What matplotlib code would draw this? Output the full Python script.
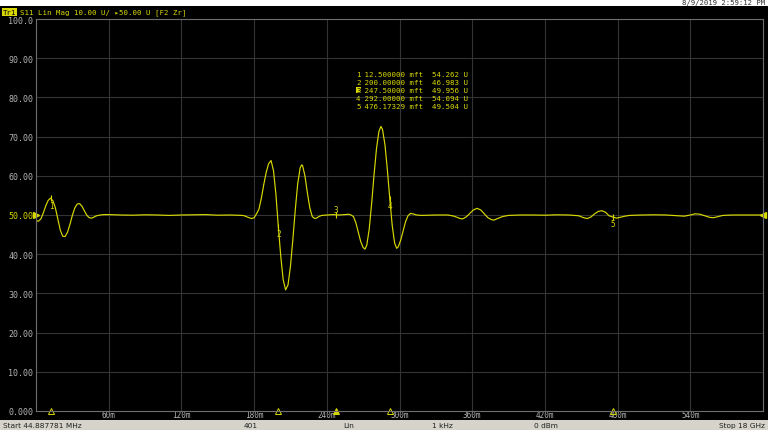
import matplotlib
matplotlib.use("Agg")
import matplotlib.pyplot as plt
from matplotlib.patches import Rectangle

# trace (distance in mft, S11 lin mag in U)
dist = [0, 2, 4, 6, 8, 10, 12, 14, 16, 18, 20, 22, 24, 26, 28, 30, 32, 34, 36, 38,
        40, 42, 44, 46, 48, 50, 53, 56, 60, 70, 80, 90, 100, 110, 120, 130, 140, 150,
        160, 170, 172, 175, 178, 180, 182, 184, 186, 188, 190, 192, 194, 196, 198, 200,
        202, 204, 206, 208, 210, 212, 214, 216, 218, 219.3, 220, 222, 224, 226, 228,
        230, 232, 234, 236, 240, 245, 250, 255, 258, 260, 262, 264, 266, 268, 270,
        271.5, 273, 275, 277, 279, 281, 283, 284.7, 286, 288, 290, 292, 294, 296,
        297.7, 299, 301, 303, 305, 307, 309, 311, 314, 318, 330, 340, 345, 350, 352,
        355, 358, 361, 364, 367, 370, 373, 376, 378, 381, 385, 390, 400, 410, 420,
        430, 440, 448, 452, 455, 458, 461, 464, 467, 470, 473, 476, 479, 482, 486,
        490, 500, 510, 520, 530, 535, 540, 544, 548, 552, 556, 559, 563, 567, 575,
        585, 600]
mag = [48.6, 48.4, 49.0, 50.5, 52.3, 53.7, 54.3, 53.6, 51.8, 49.0, 46.2, 44.6, 44.5,
       45.6, 47.6, 49.9, 51.8, 52.8, 52.9, 52.2, 51.0, 49.9, 49.3, 49.2, 49.5, 49.8,
       50.0, 50.1, 50.1, 50.0, 49.95, 50.05, 50.0, 49.9, 50.0, 50.05, 50.1, 49.95,
       50.0, 49.9, 49.8, 49.4, 49.1, 49.3, 50.3, 51.5, 54.3, 57.8, 60.9, 63.1, 63.9,
       61.3, 55.3, 47.0, 39.5, 33.5, 30.9, 32.2, 36.9, 43.8, 51.4, 58.0, 62.0, 62.8,
       62.6, 59.9, 55.6, 51.8, 49.6, 49.1, 49.3, 49.7, 49.9, 50.0, 50.1, 50.0, 50.1,
       50.2, 50.0, 49.6, 48.0, 45.6, 43.2, 41.7, 41.3, 42.3, 46.4, 52.9, 60.3, 66.9,
       71.3, 72.6, 71.8, 67.9, 61.5, 54.1, 47.3, 42.8, 41.5, 41.9, 43.6, 46.0, 48.3,
       49.8, 50.4, 50.3, 50.0, 49.9, 50.0, 50.0, 49.7, 49.1, 49.0, 49.5, 50.4, 51.3,
       51.7, 51.3, 50.3, 49.3, 48.8, 48.7, 49.1, 49.6, 49.9, 50.0, 50.0, 49.95,
       50.05, 50.0, 49.8, 49.3, 49.1, 49.5, 50.3, 50.9, 51.1, 50.7, 49.8, 49.5, 49.2,
       49.4, 49.7, 49.9, 50.0, 50.05, 50.0, 49.8, 49.7, 50.0, 50.3, 50.2, 49.8, 49.4,
       49.3, 49.6, 49.9, 50.0, 50.0, 50.0]

mk_id = ["1", "2", "3", "4", "5"]
mk_x = [12.5, 200.0, 247.5, 292.0, 476.17329]
mk_y = [54.262, 46.983, 49.956, 54.094, 49.504]
mk_txt = ["12.500000", "200.00000", "247.50000", "292.00000", "476.17329"]
active = 2

xticks = [0, 60, 120, 180, 240, 300, 360, 420, 480, 540, 600]
xlabels = ["", "60m", "120m", "180m", "240m", "300m", "360m", "420m", "480m", "540m", ""]
yticks = [0, 10, 20, 30, 40, 50, 60, 70, 80, 90, 100]
ylabels = ["0.000", "10.00", "20.00", "30.00", "40.00", "50.00", "60.00", "70.00",
           "80.00", "90.00", "100.0"]

YEL = "#d8d800"
MONO = ["DejaVu Sans Mono", "DejaVu Sans"]
W, H = 768, 431

fig = plt.figure(figsize=(W / 100, H / 100), dpi=100, facecolor="black")

# top white strip with date, bottom status bar
fig.patches.append(Rectangle((0, 1 - 7 / H), 1, 7 / H, transform=fig.transFigure,
                             facecolor="white", edgecolor="none"))
fig.patches.append(Rectangle((0, 0), 1, 10 / H, transform=fig.transFigure,
                             facecolor="#d6d3cb", edgecolor="none"))
fig.text(1 - 3 / W, 1 - 3.5 / H, "8/9/2019 2:59:12 PM", ha="right", va="center",
         fontsize=5.2, color="#333333", family=MONO)

bar = [("Start 44.887781 MHz", 3, "left"), ("401", 251, "center"), ("Lin", 349, "center"),
       ("1 kHz", 442, "center"), ("0 dBm", 546, "center"), ("Stop 18 GHz", 765, "right")]
for s, px, ha in bar:
    fig.text(px / W, 5 / H, s, ha=ha, va="center", fontsize=5.3, color="#202020")

# header
fig.text(3 / W, 1 - 13 / H, "Tr1", ha="left", va="center", fontsize=5.3, color="black",
         family=MONO, bbox=dict(boxstyle="square,pad=0.1", facecolor=YEL, edgecolor="none"))
fig.text(20 / W, 1 - 13 / H, "S11 Lin Mag 10.00 U/ \u25b850.00 U [F2 Zr]", ha="left",
         va="center", fontsize=5.3, color=YEL, family=MONO)

ax = fig.add_axes([36 / W, (H - 412) / H, 727 / W, 392 / H])
ax.set_facecolor("black")
ax.set_xlim(0, 600)
ax.set_ylim(0, 100)
ax.set_xticks(xticks)
ax.set_xticklabels(xlabels)
ax.set_yticks(yticks)
ax.set_yticklabels(ylabels)
ax.tick_params(length=0, labelsize=6, colors="#b4b4b4", pad=2)
ax.tick_params(axis="x", labelsize=5.5, pad=-1)
for lab in ax.get_xticklabels() + ax.get_yticklabels():
    lab.set_family(MONO)
ax.get_yticklabels()[5].set_color(YEL)
ax.grid(True, color="#343434", lw=0.8)
for sp in ax.spines.values():
    sp.set_color("#6e6e6e")
    sp.set_linewidth(0.8)

ax.plot(dist, mag, color=YEL, lw=0.85)

# reference position arrows
ax.plot([0], [50], marker=">", color=YEL, ms=4, clip_on=False)
ax.plot([600], [50], marker="<", color=YEL, ms=4, clip_on=False)

# markers on trace and on the x axis
for i in range(len(mk_x)):
    off = 4 if i == active else -5
    ax.plot([mk_x[i]], [mk_y[i]], marker="|", ms=4, mew=0.8, color=YEL)
    ax.annotate(mk_id[i], (mk_x[i], mk_y[i]), xytext=(0, off), textcoords="offset points",
                ha="center", va="center", fontsize=5.5, color=YEL, family=MONO)
    ax.plot([mk_x[i]], [0], marker="^", ms=4, mec=YEL, mew=0.7,
            mfc=YEL if i == active else "none", clip_on=False)

# marker table
for i in range(len(mk_x)):
    ypos = 1 - (75 + 8 * i) / H
    rest = " %s mft  %6.3f U" % (mk_txt[i], mk_y[i])
    if i == active:
        fig.text(356 / W, ypos, mk_id[i], ha="left", va="center", fontsize=5.4,
                 color="black", family=MONO,
                 bbox=dict(boxstyle="square,pad=0.05", facecolor=YEL, edgecolor="none"))
    else:
        fig.text(356 / W, ypos, mk_id[i], ha="left", va="center", fontsize=5.4,
                 color=YEL, family=MONO)
    fig.text(360.5 / W, ypos, rest, ha="left", va="center", fontsize=5.4,
             color=YEL, family=MONO)

fig.savefig("out.png", dpi=100, facecolor="black")
